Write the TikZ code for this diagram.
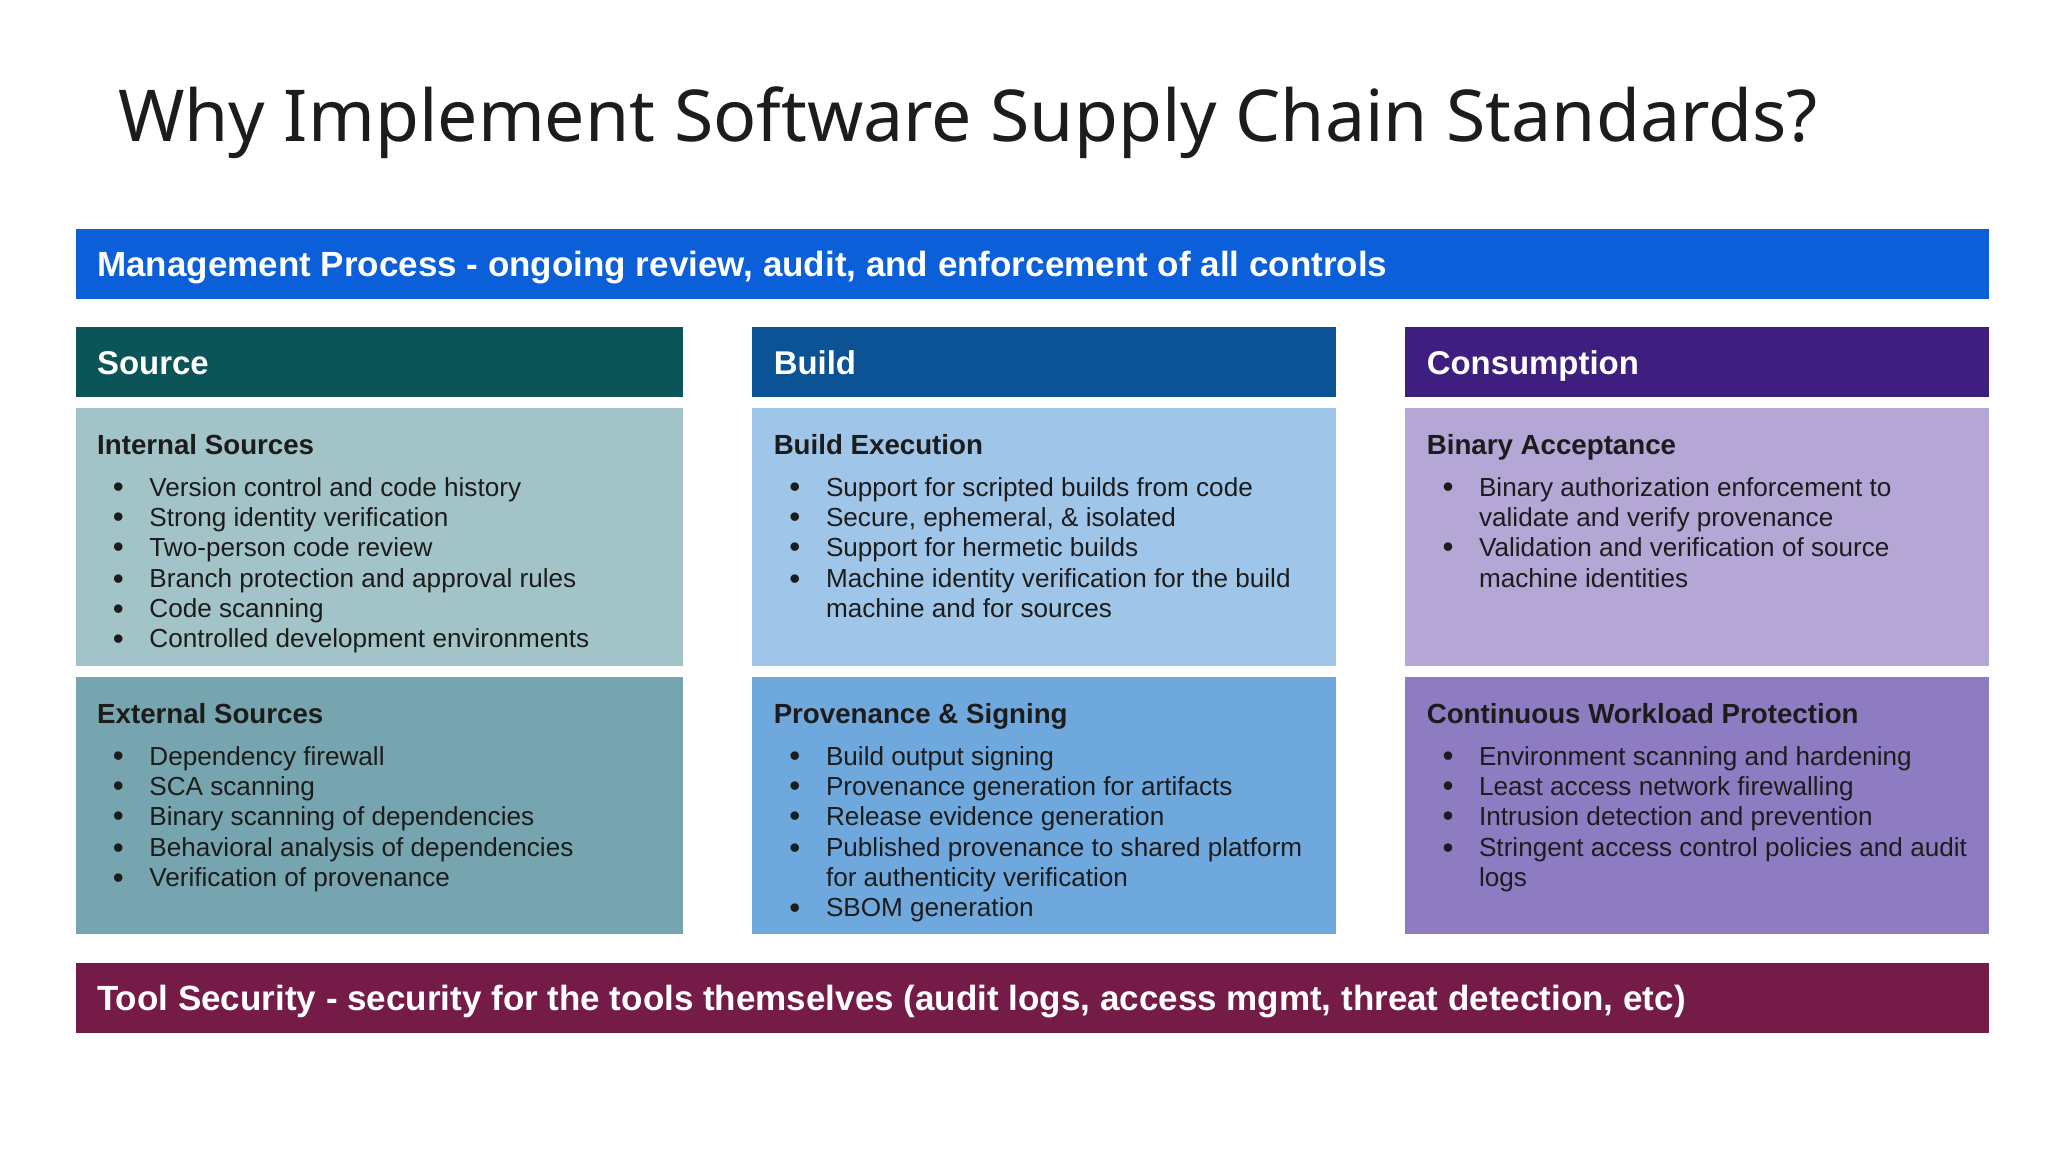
\documentclass[tikz,border=0pt]{standalone}
\usepackage{fontspec}
\setmainfont{Liberation Sans}
\newfontfamily\titlefont{Noto Sans}
\definecolor{mgmt}{HTML}{0B5FD8}
\definecolor{srch}{HTML}{0B5458}
\definecolor{bldh}{HTML}{0B5394}
\definecolor{conh}{HTML}{3E1F80}
\definecolor{srca}{HTML}{A2C4C9}
\definecolor{srcb}{HTML}{76A5AF}
\definecolor{blda}{HTML}{9FC5E8}
\definecolor{bldb}{HTML}{6FA8DC}
\definecolor{cona}{HTML}{B4A7D6}
\definecolor{conb}{HTML}{8E7CC3}
\definecolor{tool}{HTML}{741B47}
\definecolor{ink}{HTML}{1C1C1C}
\tikzset{
 txt/.style={anchor=base west,inner sep=0pt,font=\fontsize{10}{12}\selectfont,text=ink},
 bul/.style={anchor=base west,inner sep=0pt,font=\fontsize{12}{12}\selectfont,text=ink},
 hd/.style={anchor=base west,inner sep=0pt,font=\fontsize{10.6}{12}\selectfont\bfseries,text=ink},
 bar/.style={anchor=base west,inner sep=0pt,font=\fontsize{13.4}{14}\selectfont\bfseries,text=white},
 colh/.style={anchor=base west,inner sep=0pt,font=\fontsize{12.6}{14}\selectfont\bfseries,text=white},
}
\newcommand\bl[3]{\node[txt] at (#1,#2) {#3}; \node[bul] at (#1-28,#2+1) {\textbullet};}
\newcommand\cl[3]{\node[txt] at (#1,#2) {#3};}
\begin{document}
\begin{tikzpicture}[x=0.5pt,y=-0.5pt]
\useasboundingbox (0,0) rectangle (1568,882);
\fill[white] (0,0) rectangle (1568,882);
\node[anchor=base west,inner sep=0pt,font=\titlefont\fontsize{27.4}{30}\selectfont,text=ink] (title) at (90,108) {Why Implement Software Supply Chain Standards?};
% management
\fill[mgmt] (58,175) rectangle (1523,229);
\node[bar] (m) at (74,212) {Management Process - ongoing review, audit, and enforcement of all controls};
% headers
\fill[srch] (58,250) rectangle (523,304);
\fill[bldh] (576,250) rectangle (1023,304);
\fill[conh] (1076,250) rectangle (1523,304);
\node[colh] (hs) at (74,287) {Source};
\node[colh] (hb) at (592,287) {Build};
\node[colh] (hc) at (1092,287) {Consumption};
% boxes
\fill[srca] (58,312) rectangle (523,510);
\fill[srcb] (58,518) rectangle (523,715);
\fill[blda] (576,312) rectangle (1023,510);
\fill[bldb] (576,518) rectangle (1023,715);
\fill[cona] (1076,312) rectangle (1523,510);
\fill[conb] (1076,518) rectangle (1523,715);
% source
\node[hd] at (74,348) {Internal Sources};
\bl{114}{380}{Version control and code history}
\bl{114}{403}{Strong identity verification}
\bl{114}{426}{Two-person code review}
\bl{114}{450}{Branch protection and approval rules}
\bl{114}{473}{Code scanning}
\bl{114}{496}{Controlled development environments}
\node[hd] at (74,554) {External Sources};
\bl{114}{586}{Dependency firewall}
\bl{114}{609}{SCA scanning}
\bl{114}{632}{Binary scanning of dependencies}
\bl{114}{656}{Behavioral analysis of dependencies}
\bl{114}{679}{Verification of provenance}
% build
\node[hd] at (592,348) {Build Execution};
\bl{632}{380}{Support for scripted builds from code}
\bl{632}{403}{Secure, ephemeral, \& isolated}
\bl{632}{426}{Support for hermetic builds}
\bl{632}{450}{Machine identity verification for the build}
\cl{632}{473}{machine and for sources}
\node[hd] at (592,554) {Provenance \& Signing};
\bl{632}{586}{Build output signing}
\bl{632}{609}{Provenance generation for artifacts}
\bl{632}{632}{Release evidence generation}
\bl{632}{656}{Published provenance to shared platform}
\cl{632}{679}{for authenticity verification}
\bl{632}{702}{SBOM generation}
% consumption
\node[hd] at (1092,348) {Binary Acceptance};
\bl{1132}{380}{Binary authorization enforcement to}
\cl{1132}{403}{validate and verify provenance}
\bl{1132}{426}{Validation and verification of source}
\cl{1132}{450}{machine identities}
\node[hd] at (1092,554) {Continuous Workload Protection};
\bl{1132}{586}{Environment scanning and hardening}
\bl{1132}{609}{Least access network firewalling}
\bl{1132}{632}{Intrusion detection and prevention}
\bl{1132}{656}{Stringent access control policies and audit}
\cl{1132}{679}{logs}
% tool security
\fill[tool] (58,737) rectangle (1523,791);
\node[bar] (t) at (74,774) {Tool Security - security for the tools themselves (audit logs, access mgmt, threat detection, etc)};
\end{tikzpicture}
\end{document}
